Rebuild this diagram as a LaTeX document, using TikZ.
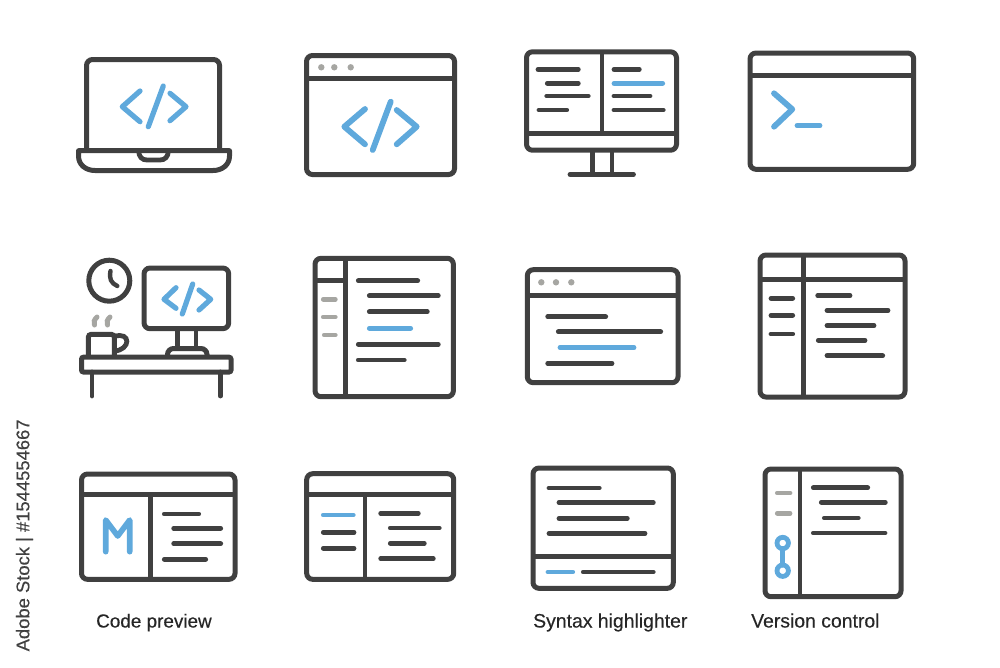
\documentclass[tikz,border=0pt]{standalone}
\usepackage{fontspec}
\setmainfont{Liberation Sans}
\newfontfamily\capfont[FakeBold=0.35]{Liberation Sans}
\definecolor{inkdark}{HTML}{404040}
\definecolor{inkblue}{HTML}{5FA9DC}
\definecolor{inkgray}{HTML}{A6A6A2}
\tikzset{
	frame/.style={draw=inkdark,line width=5pt,rounded corners=6pt},
	rule/.style={inkdark,line width=4.8pt},
	codeln/.style={inkdark,line width=4.8pt,line cap=round},
	accent/.style={inkblue,line width=4.8pt,line cap=round},
	mute/.style={inkgray,line width=4.8pt,line cap=round},
	glyph/.style={inkblue,line width=5.2pt,line cap=round,line join=round},
	caption/.style={font=\capfont\fontsize{19.4}{22}\selectfont,text=black!85,inner sep=0pt,anchor=base west}
}
\begin{document}
\begin{tikzpicture}[x=1pt,y=-1pt]
	\useasboundingbox (0,0) rectangle (1000,667);

	% Laptop
	\draw[frame] (86.5,150.7) -- (86.5,59.5) -- (219.5,59.5) -- (219.5,150.7);
	\draw[inkdark,line width=5pt,line join=round] (78.5,150.7) -- (229.5,150.7) -- (229.5,156) .. controls (229.5,165) and (222,170.5) .. (213,170.5) -- (95,170.5) .. controls (86,170.5) and (78.5,165) .. (78.5,156) -- cycle;
	\draw[rule] (138.5,150.7) .. controls (139,157) and (142,160) .. (147,160) -- (160,160) .. controls (165,160) and (168,157) .. (168.5,150.7);
	\draw[glyph] (140,91) -- (122.3,106.7) -- (140,121.7);
	\draw[glyph] (163.3,86) -- (148.3,126.7);
	\draw[glyph] (170,93.3) -- (186,106.7) -- (170,120.7);

	% Browser with code
	\draw[frame] (306.5,55.5) rectangle (454.5,174.5);
	\draw[rule] (306.5,78.7) -- (454.5,78.7);
	\foreach \xa in {321.3,334.3,350.7}
		\fill[inkgray] (\xa,67.3) circle (3.2);
	\draw[glyph,line width=5.8pt] (365,109) -- (344.3,126.7) -- (365,144.3);
	\draw[glyph,line width=5.8pt] (390.7,101.7) -- (372.7,150);
	\draw[glyph,line width=5.8pt] (396.7,110) -- (416.7,126.7) -- (396.7,144.3);

	% Monitor
	\draw[frame] (526.5,51.8) rectangle (676.5,150.2);
	\draw[rule] (526.5,133.3) -- (676.5,133.3);
	\draw[rule] (602,51.8) -- (602,133.3);
	\draw[rule] (592.3,150.2) -- (592.3,174.3);
	\draw[rule] (612,150.2) -- (612,174.3);
	\draw[codeln] (570,174.3) -- (633.5,174.3);
	\foreach \xa/\xb/\ya in {538/578.3/69.3,547.3/578.3/83.3,546.7/588.3/96,539/566.7/110,614/639.3/69.3,614/650/96,614/663.3/110}
		\draw[codeln] (\xa,\ya) -- (\xb,\ya);
	\draw[accent] (614,83.3) -- (662.7,83.3);

	% Terminal
	\draw[frame] (750,53) rectangle (913.7,169.3);
	\draw[rule] (750,75.7) -- (913.7,75.7);
	\draw[glyph,line width=5.8pt] (774,93.3) -- (792.3,109.3) -- (774,126.7);
	\draw[accent] (797,125.7) -- (820,125.7);

	% Desk
	\draw[inkdark,line width=5pt] (109.3,280.7) circle (20.5);
	\draw[rule,line cap=round,line width=4.4pt] (110.5,271) .. controls (109,279) and (111,283) .. (117.3,286);
	\draw[frame] (144,268) rectangle (228.7,328.7);
	\draw[glyph] (176,287.7) -- (164,299.3) -- (176,308.3);
	\draw[glyph] (192.7,284) -- (182.3,314);
	\draw[glyph] (199,290) -- (210.7,299.3) -- (199,310);
	\draw[rule] (177.7,328.7) -- (177.7,349);
	\draw[rule] (196,328.7) -- (196,349);
	\draw[frame] (167.5,357) -- (167.5,348.5) -- (207,348.5) -- (207,357);
	\draw[frame,rounded corners=2pt] (81.5,357.2) rectangle (231,372);
	\draw[codeln] (92,372) -- (92,396);
	\draw[codeln] (220.3,372) -- (220.3,396);
	\draw[frame,rounded corners=3pt] (114.3,357.2) -- (114.3,334.3) -- (88.3,334.3) -- (88.3,357.2);
	\draw[rule] (114.3,336.5) .. controls (131,331) and (131,350) .. (114.3,351);
	\draw[mute,line width=5pt] (97,317) .. controls (94,320) and (93.5,322) .. (94.5,325);
	\draw[mute,line width=5pt] (110,317) .. controls (107,320) and (106.5,322) .. (107.5,325);

	% Editor with sidebar
	\draw[frame] (315,258.3) rectangle (453.4,396.7);
	\draw[rule] (345.7,258.3) -- (345.7,396.7);
	\draw[rule] (315,280.7) -- (345.7,280.7);
	\foreach \xa/\ya in {323.3/299.3,323.3/317,324.3/335}
		\draw[mute] (\xa,\ya) -- (335.3,\ya);
	\foreach \xa/\xb/\ya in {358.3/417.7/280.7,369.3/438.3/295.7,369.3/427.3/311.7,358.3/438.3/344.3,358.3/404.3/360}
		\draw[codeln] (\xa,\ya) -- (\xb,\ya);
	\draw[accent] (369.3,328.3) -- (410.7,328.3);

	% Browser with text
	\draw[frame] (527.3,269.7) rectangle (678,382.7);
	\draw[rule] (527.3,295.7) -- (678,295.7);
	\foreach \xa in {541.3,556,571.3}
		\fill[inkgray] (\xa,282.3) circle (3.2);
	\foreach \xa/\xb/\ya in {547.7/605.7/316.7,558.3/660.7/331.7,547.7/612/363.3}
		\draw[codeln] (\xa,\ya) -- (\xb,\ya);
	\draw[accent] (560,347.7) -- (634,347.7);

	% File tree
	\draw[frame] (760,255) rectangle (905,397);
	\draw[rule] (803.7,255) -- (803.7,397);
	\draw[rule] (760,279.7) -- (905,279.7);
	\foreach \xa/\xb/\ya in {771/792.7/298.3,771/792.7/315.3,771/792.7/334,817.7/850/295.7,827/888/310.3,827/874/325.7,818.3/865/340.3,827/882.7/355.7}
		\draw[codeln] (\xa,\ya) -- (\xb,\ya);

	% Code preview
	\draw[frame] (81.5,474) rectangle (235,579.3);
	\draw[rule] (81.5,494.3) -- (235,494.3);
	\draw[rule] (150.3,494.3) -- (150.3,579.3);
	\draw[glyph,line width=5.6pt] (105.7,551.7) -- (105.7,520) -- (117.7,536) -- (129.7,520) -- (129.7,551.7);
	\foreach \xa/\xb/\ya in {164.3/198.7/514,173.7/220.7/528.3,173.7/220.7/543.7,164.3/205.7/559.3}
		\draw[codeln] (\xa,\ya) -- (\xb,\ya);

	% Split view
	\draw[frame] (306.7,473.7) rectangle (453.7,579.3);
	\draw[rule] (306.7,494.3) -- (453.7,494.3);
	\draw[rule] (365,494.3) -- (365,579.3);
	\draw[accent] (323.3,515) -- (353.3,515);
	\foreach \xa/\xb/\ya in {323.3/354/532.3,323.3/354/548.3,380.7/418.3/513.3,390.3/439.3/528,390.3/424.3/543.3,380.7/433.3/558.7}
		\draw[codeln] (\xa,\ya) -- (\xb,\ya);

	% Syntax highlighter
	\draw[frame] (533,468) rectangle (673.3,588.3);
	\draw[rule] (533,556.7) -- (673.3,556.7);
	\foreach \xa/\xb/\ya in {549/599.3/488,559/653.3/502.7,559/627.3/518.3,549/645/533.3,583.3/653.3/572}
		\draw[codeln] (\xa,\ya) -- (\xb,\ya);
	\draw[accent] (548,572) -- (572.7,572);

	% Version control
	\draw[frame] (765,469) rectangle (901,596.7);
	\draw[rule] (800,469) -- (800,596.7);
	\foreach \ya in {493,513.3}
		\draw[mute] (777.3,\ya) -- (790,\ya);
	\draw[accent] (782.7,549) -- (782.7,565);
	\foreach \ya in {543,570.7}
		\draw[inkblue,line width=4.8pt] (782.7,\ya) circle (5.7);
	\foreach \xa/\xb/\ya in {813.3/867.7/487.7,821.3/885.3/502.3,824.3/858.3/518,813.3/885/533}
		\draw[codeln] (\xa,\ya) -- (\xb,\ya);

	% Captions
	\node[caption,font=\capfont\fontsize{18.9}{22}\selectfont] (preview) at (96,627.5) {Code preview};
	\node[caption] (syntax) at (533,627.5) {Syntax highlighter};
	\node[caption] (version) at (751,627.5) {Version control};
	\node[caption,font=\capfont\fontsize{18.4}{22}\selectfont,rotate=90,text=inkdark] (stock) at (29.3,651.5) {Adobe Stock | \#1544554667};
\end{tikzpicture}
\end{document}
